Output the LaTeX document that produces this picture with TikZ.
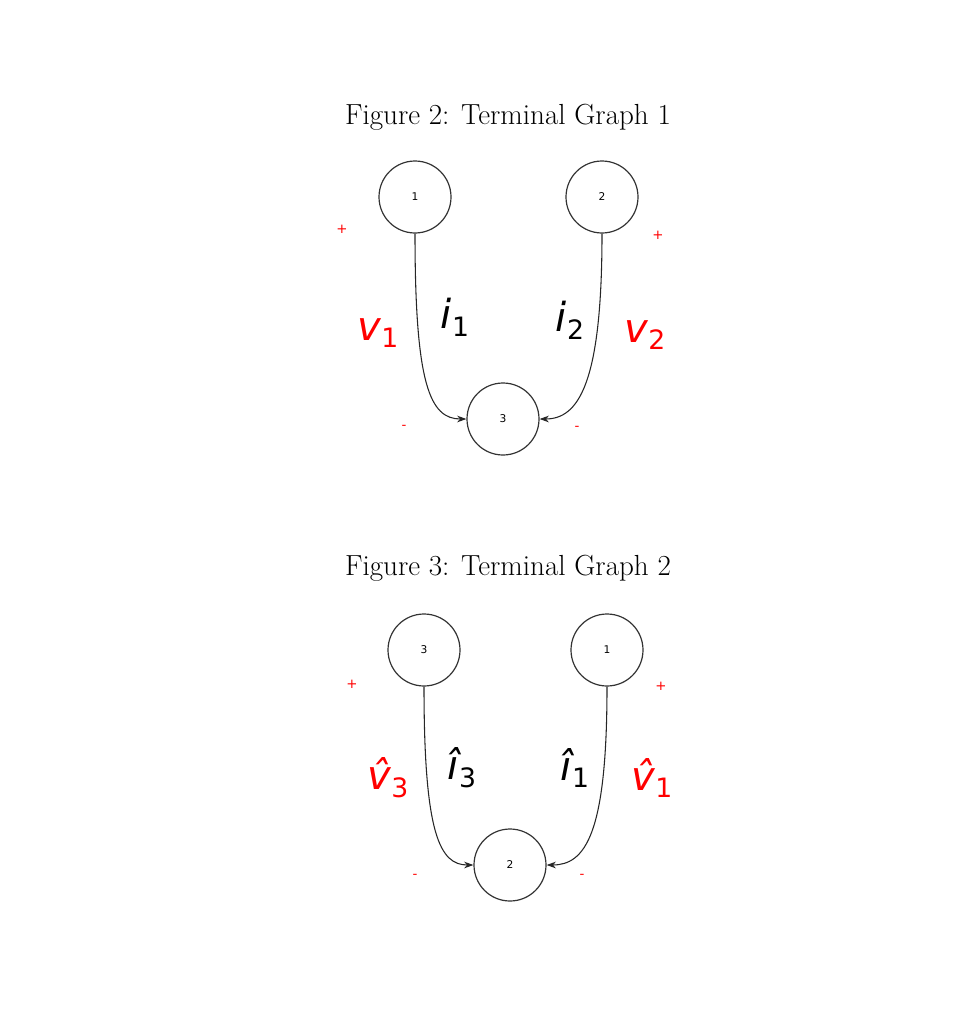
\documentclass[tikz,border=0pt]{standalone}
\usepackage{fontspec}
\newfontfamily\lblfont{DejaVu Sans}
\usetikzlibrary{arrows.meta}
\begin{document}
\begin{tikzpicture}[x=0.75pt,y=-0.75pt,
  vert/.style={draw=black!80,line width=0.9pt,circle,minimum size=54pt,inner sep=0pt,font=\lblfont\fontsize{8}{9}\selectfont},
  edge/.style={draw=black!85,line width=0.8pt,-{Stealth[length=7pt,width=5pt]}},
  captxt/.style={font=\fontsize{21.8}{26}\selectfont},
  volt/.style={text=red,font=\lblfont\fontsize{30}{34}\selectfont},
  cur/.style={text=black,font=\lblfont\fontsize{30}{34}\selectfont},
  sgn/.style={text=red,font=\lblfont\fontsize{10}{12}\selectfont}]
\useasboundingbox (0,0) rectangle (975,1024);
% Figure 2
\node[captxt] (c1) at (508,117) {Figure 2: Terminal Graph 1};
\node[vert] (a1) at (415,197) {1};
\node[vert] (a2) at (602,197) {2};
\node[vert] (a3) at (503,419) {3};
\draw[edge] (a1.south) .. controls (415,385) and (430,419) .. (a3.west);
\draw[edge] (a2.south) .. controls (602,385) and (578,419) .. (a3.east);
\node[volt] (v1) at (378,333) {\itshape v\upshape\raisebox{-0.35ex}{\fontsize{20}{22}\selectfont 1}};
\node[cur] (i1) at (455,317) {\itshape i\upshape\raisebox{-0.35ex}{\fontsize{20}{22}\selectfont 1}};
\node[cur] (i2) at (570,320) {\itshape i\upshape\raisebox{-0.35ex}{\fontsize{20}{22}\selectfont 2}};
\node[volt] (v2) at (645,335) {\itshape v\upshape\raisebox{-0.35ex}{\fontsize{20}{22}\selectfont 2}};
\node[sgn] (p1) at (342,229) {+};
\node[sgn] (p2) at (658,235) {+};
\node[sgn] (m1) at (404,427) {-};
\node[sgn] (m2) at (577,428) {-};
% Figure 3
\node[captxt] (c2) at (508,568) {Figure 3: Terminal Graph 2};
\node[vert] (b3) at (424,650) {3};
\node[vert] (b1) at (607,650) {1};
\node[vert] (b2) at (510,865) {2};
\draw[edge] (b3.south) .. controls (424,835) and (440,865) .. (b2.west);
\draw[edge] (b1.south) .. controls (607,835) and (585,865) .. (b2.east);
\node[volt] (w3) at (388,778) {\itshape \^{v}\upshape\raisebox{-0.35ex}{\fontsize{20}{22}\selectfont 3}};
\node[cur] (j3) at (462,768) {\itshape \^{ı}\upshape\raisebox{-0.35ex}{\fontsize{20}{22}\selectfont 3}};
\node[cur] (j1) at (575,768) {\itshape \^{ı}\upshape\raisebox{-0.35ex}{\fontsize{20}{22}\selectfont 1}};
\node[volt] (w1) at (652,778) {\itshape \^{v}\upshape\raisebox{-0.35ex}{\fontsize{20}{22}\selectfont 1}};
\node[sgn] (q1) at (352,684) {+};
\node[sgn] (q2) at (661,686) {+};
\node[sgn] (n1) at (415,876) {-};
\node[sgn] (n2) at (582,876) {-};
\end{tikzpicture}
\end{document}
